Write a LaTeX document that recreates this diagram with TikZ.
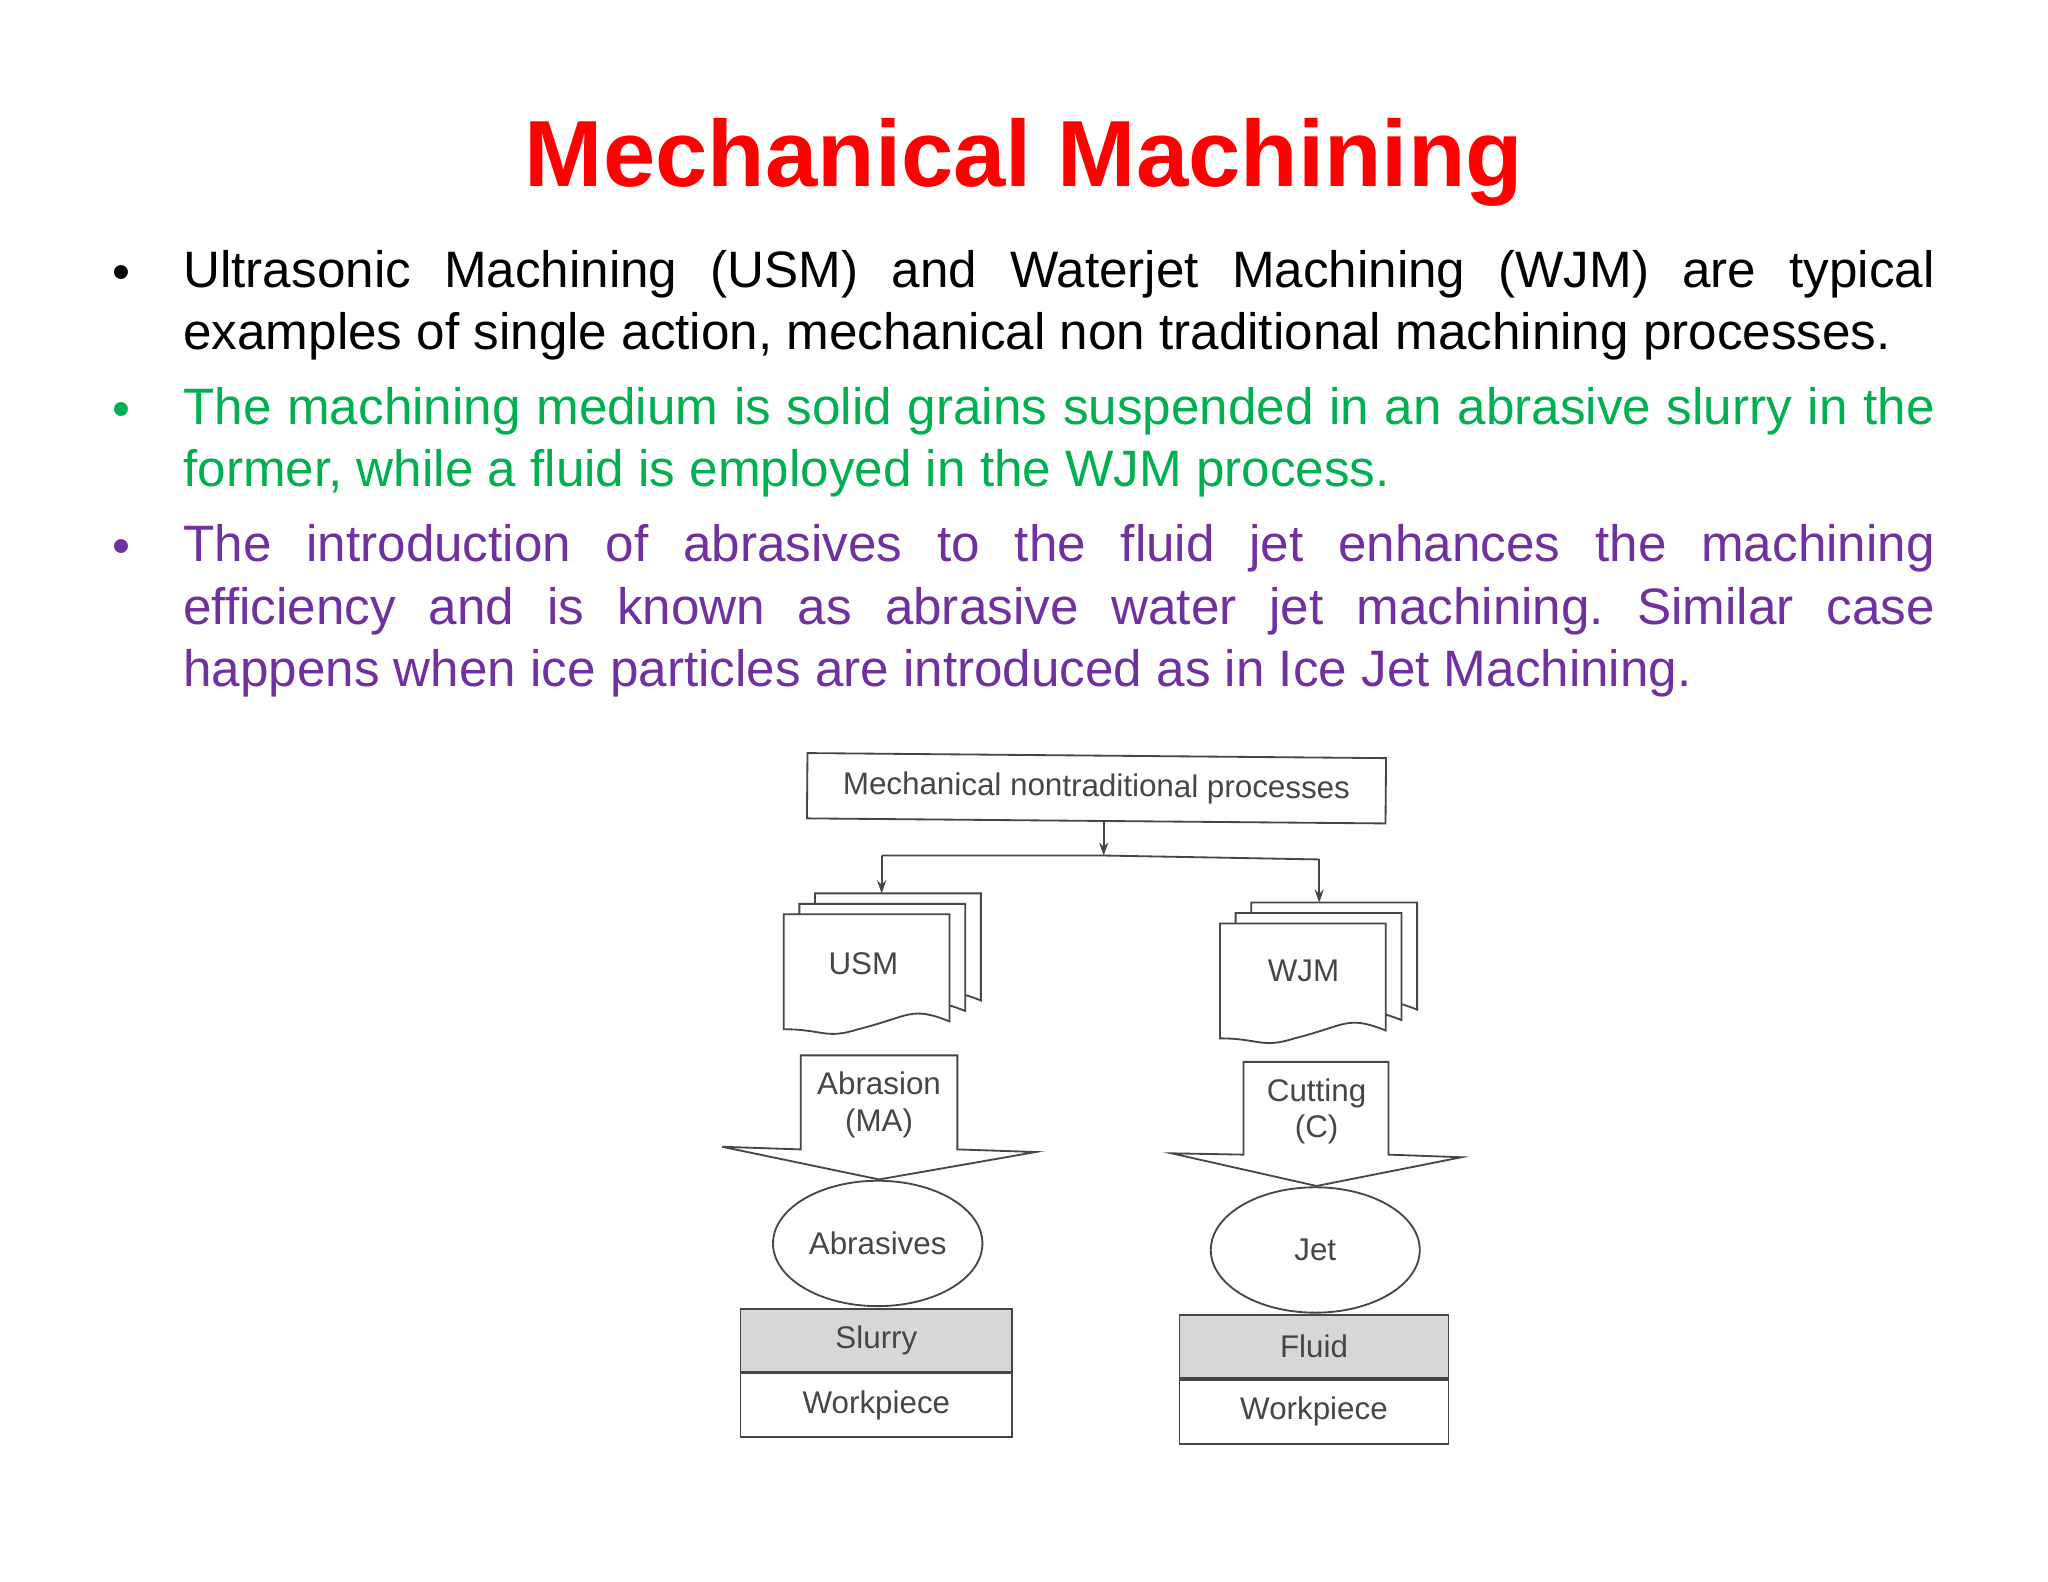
\documentclass[tikz,border=0pt]{standalone}
\usepackage{fontspec}
\setmainfont{Liberation Sans}
\usetikzlibrary{arrows.meta,shapes.geometric}
\definecolor{tred}{RGB}{255,0,0}
\definecolor{tgreen}{RGB}{0,176,80}
\definecolor{tpurple}{RGB}{112,48,160}
\definecolor{dg}{RGB}{70,70,70}
\definecolor{sh}{RGB}{215,215,215}
\hyphenpenalty=10000
\exhyphenpenalty=10000
\frenchspacing
\tikzset{
 ln/.style={draw=dg,line width=0.7pt},
 arr/.style={ln,-{Stealth[length=5pt,width=3.5pt]}},
 lbl/.style={text=dg,font=\fontsize{12}{14}\selectfont,inner sep=2pt},
 bul/.style={anchor=north west,text width=670.5pt,align=justify,inner sep=0pt,font=\fontsize{19.6}{24}\selectfont},
 dot/.style={anchor=north west,inner sep=0pt,font=\fontsize{19.6}{24}\selectfont}
}
\newcommand{\docshape}[3]{% x y name
 \path[ln,fill=white] (#1,#2) -- ++(127,0) -- ++(0,82) .. controls ++(-30,-12) and ++(40,-10) .. ++(-70,6) .. controls ++(-25,8) and ++(30,0) .. ++(-57,0) -- cycle;}
\begin{document}
\begin{tikzpicture}[x=0.5pt,y=-0.5pt]
\useasboundingbox[fill=white] (0,0) rectangle (1568,1211);
\node[text=tred,font=\bfseries\fontsize{36}{40}\selectfont] (title) at (784,124) {Mechanical Machining};
\node[dot] (b1) at (86,203) {•};
\node[bul] (t1) at (140,191) {Ultrasonic Machining (USM) and Waterjet Machining (WJM) are typical\linebreak examples of single action, mechanical non traditional machining processes.};
\node[dot,text=tgreen] (b2) at (86,308) {•};
\node[bul,text=tgreen] (t2) at (140,296) {The machining medium is solid grains suspended in an abrasive slurry in the\linebreak former, while a fluid is employed in the WJM process.};
\node[dot,text=tpurple] (b3) at (86,413) {•};
\node[bul,text=tpurple] (t3) at (140,401) {The introduction of abrasives to the fluid jet enhances the machining\linebreak efficiency and is known as abrasive water jet machining. Similar case\linebreak happens when ice particles are introduced as in Ice Jet Machining.};
% top box
\node[ln,lbl,minimum width=221.5pt,minimum height=25pt,rotate=-0.5] (top) at (839.5,603.5) {Mechanical nontraditional processes};
\coordinate (j) at (845,655);
\coordinate (jl) at (675,655);
\coordinate (jr) at (1010,658);
\draw[arr] (top.south -| j) -- (j);
\draw[ln] (jl) -- (j) -- (jr);
% documents
\docshape{624}{684}{}
\docshape{612}{692}{}
\docshape{600}{700}{}
\node[lbl] (usm) at (661,738) {USM};
\docshape{958}{691}{}
\docshape{946}{699}{}
\docshape{934}{707}{}
\node[lbl] (wjm) at (998,743) {WJM};
\draw[arr] (jl) -- (675,684);
\draw[arr] (jr) -- (1010,691);
% block arrows
\path[ln,fill=white] (613,808) -- (733,808) -- (733,880) -- (793,882) -- (673,903) -- (553,878) -- (613,880) -- cycle;
\node[lbl,align=center] (ma) at (673,846) {Abrasion\\(MA)};
\path[ln,fill=white] (952,813) -- (1063,813) -- (1063,884) -- (1119,886) -- (1008,908) -- (897,883) -- (952,884) -- cycle;
\node[lbl,align=center] (c) at (1008,851) {Cutting\\(C)};
% ellipses
\node[ln,lbl,ellipse,minimum width=80pt,minimum height=48pt] (abr) at (672,952) {Abrasives};
\node[ln,lbl,ellipse,minimum width=80pt,minimum height=48pt] (jet) at (1007,957) {Jet};
% boxes
\node[ln,lbl,fill=sh,minimum width=104pt,minimum height=24pt] (sl) at (671,1026) {Slurry};
\node[ln,lbl,minimum width=104pt,minimum height=24.5pt,anchor=north] (wp1) at (sl.south) {Workpiece};
\node[ln,lbl,fill=sh,minimum width=103pt,minimum height=24pt] (fl) at (1006,1031) {Fluid};
\node[ln,lbl,minimum width=103pt,minimum height=24.5pt,anchor=north] (wp2) at (fl.south) {Workpiece};
\end{tikzpicture}
\end{document}
